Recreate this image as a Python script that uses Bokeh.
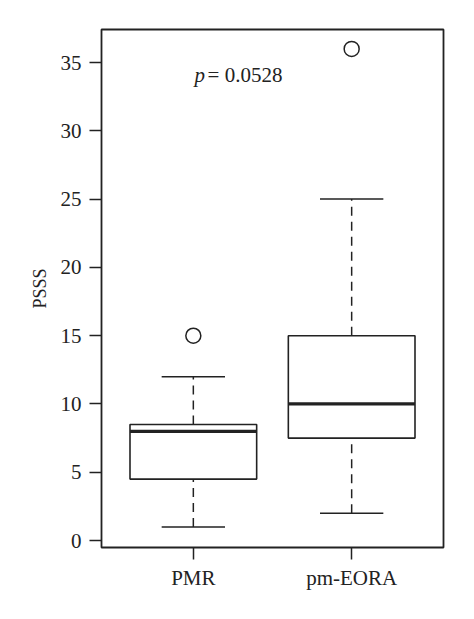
from bokeh.plotting import figure
from bokeh.models import FixedTicker, Range1d, ColumnDataSource
from bokeh.core.properties import value
from bokeh.embed import file_html
from bokeh.resources import INLINE

# data
categories = ["PMR", "pm-EORA"]
whisker_low = [1, 2]
q1 = [4.5, 7.5]
median = [8, 10]
q3 = [8.5, 15]
whisker_high = [12, 25]
outlier_group = [1, 2]
outlier_values = [15, 36]
y_ticks = [0, 5, 10, 15, 20, 25, 30, 35]
p_label = "= 0.0528"

FONT = "Liberation Serif"
INK = "#222222"

xs = [i + 1 for i in range(len(categories))]
box_w = 0.8
cap_w = 0.4

src = ColumnDataSource(dict(
    x=xs, lo=whisker_low, q1=q1, med=median, q3=q3, hi=whisker_high,
    xl=[x - box_w / 2 for x in xs], xr=[x + box_w / 2 for x in xs],
    cl=[x - cap_w / 2 for x in xs], cr=[x + cap_w / 2 for x in xs],
))

p = figure(width=458, height=603, output_backend="svg", toolbar_location=None,
           x_range=Range1d(0.42, 2.58), y_range=Range1d(-0.51, 37.42),
           min_border_left=101, min_border_right=15, min_border_top=29,
           min_border_bottom=56)
p.grid.visible = False
p.background_fill_color = "white"
p.border_fill_color = "white"
p.outline_line_color = INK
p.outline_line_width = 1.8

# whiskers (dashed)
p.segment(x0="x", y0="q3", x1="x", y1="hi", source=src, line_color=INK,
          line_width=1.5, line_dash="9 6")
p.segment(x0="x", y0="lo", x1="x", y1="q1", source=src, line_color=INK,
          line_width=1.5, line_dash="9 6")
# caps
p.segment(x0="cl", y0="hi", x1="cr", y1="hi", source=src, line_color=INK, line_width=1.5)
p.segment(x0="cl", y0="lo", x1="cr", y1="lo", source=src, line_color=INK, line_width=1.5)
# boxes
p.vbar(x="x", width=box_w, bottom="q1", top="q3", source=src,
       fill_color="white", line_color=INK, line_width=1.6)
# median
p.segment(x0="xl", y0="med", x1="xr", y1="med", source=src, line_color=INK, line_width=3.2)
# outliers
p.scatter(outlier_group, outlier_values, marker="circle", size=15,
          fill_color=None, line_color=INK, line_width=1.5)

# p-value annotation
p.text(x=[1.007], y=[34.1], text=["p"], text_font=value(FONT),
       text_font_style="italic", text_font_size="21px", text_color=INK,
       text_baseline="middle", text_align="left")
p.text(x=[1.09], y=[34.1], text=[p_label], text_font=value(FONT),
       text_font_size="21px", text_color=INK,
       text_baseline="middle", text_align="left")

# axes
p.yaxis.ticker = FixedTicker(ticks=y_ticks)
p.xaxis.ticker = FixedTicker(ticks=xs)
p.xaxis.major_label_overrides = {x: c for x, c in zip(xs, categories)}
for ax in (p.xaxis, p.yaxis):
    ax.axis_line_color = None
    ax.major_tick_line_color = INK
    ax.major_tick_line_width = 1.5
    ax.major_tick_out = 12
    ax.major_tick_in = 0
    ax.minor_tick_line_color = None
    ax.major_label_text_font = FONT
    ax.major_label_text_font_size = "21px"
    ax.major_label_text_color = INK
p.yaxis.major_label_standoff = 8
p.xaxis.major_label_standoff = 6
p.yaxis.axis_label = "PSSS"
p.yaxis.axis_label_text_font = FONT
p.yaxis.axis_label_text_font_style = "normal"
p.yaxis.axis_label_text_font_size = "18px"
p.yaxis.axis_label_text_color = INK
p.yaxis.axis_label_standoff = 8

open("out.html", "w").write(file_html(p, INLINE))
